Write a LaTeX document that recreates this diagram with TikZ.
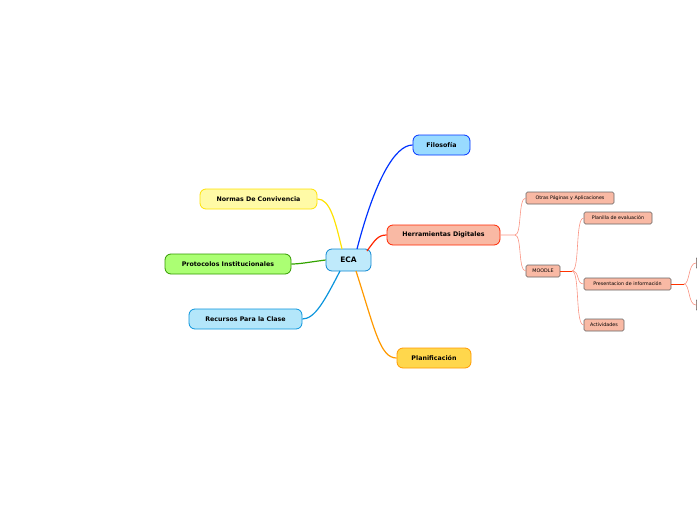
\documentclass[tikz,border=0pt]{standalone}
\usepackage{fontspec}
\setmainfont{DejaVu Sans}
\begin{document}
\begin{tikzpicture}[x=1pt,y=-1pt,
 main/.style={draw,rounded corners=6pt,line width=0.8pt,minimum height=20pt,inner sep=0pt,font=\bfseries\fontsize{6.3}{7}\selectfont},
 sub/.style={draw=black!60,fill=salm,rounded corners=1.5pt,line width=0.6pt,minimum height=12pt,inner sep=0pt,font=\fontsize{4.8}{5}\selectfont},
 conn/.style={line width=1.2pt},
 thin/.style={draw=salm!80!red,line width=0.6pt}]
\definecolor{salm}{HTML}{F9B9A4}
\useasboundingbox (0,0) rectangle (697,520);
\clip (0,0) rectangle (697,520);
\node[main,fill=cyan!25,draw=cyan!70!blue,minimum width=45pt,minimum height=22pt,font=\bfseries\fontsize{7.5}{8}\selectfont] (eca) at (348.5,260) {ECA};
\node[main,fill=blue!35!cyan!40,draw=blue!80!cyan,minimum width=57pt] (fil) at (441.5,145) {Filosofía};
\node[main,fill=salm,draw=red!70!orange,minimum width=113pt] (her) at (443.5,235) {Herramientas Digitales};
\node[main,fill=orange!45!yellow!70,draw=orange!80!yellow,minimum width=74pt] (pla) at (434,358) {Planificación};
\node[main,fill=yellow!35,draw=yellow!85!orange,minimum width=117pt] (nor) at (258.5,199) {Normas De Convivencia};
\node[main,fill=green!60!yellow!55,draw=green!50!black!80!yellow,minimum width=126pt] (pro) at (228,264) {Protocolos Institucionales};
\node[main,fill=cyan!30,draw=cyan!80!blue,minimum width=113pt] (rec) at (245.5,319) {Recursos Para la Clase};
\node[sub,minimum width=88pt] (otr) at (570,198) {Otras Páginas y Aplicaciones};
\node[sub,minimum width=34pt] (moo) at (543,271) {MOODLE};
\node[sub,minimum width=68pt] (pln) at (618,218) {Planilla de evaluación};
\node[sub,minimum width=87pt] (pre) at (627.5,284) {Presentacion de información};
\node[sub,minimum width=40pt] (act) at (604,325) {Actividades};
\node[sub,minimum width=30pt,anchor=west] (c1) at (696,263) {};
\node[sub,minimum width=30pt,anchor=west] (c2) at (696,305) {};
\draw[conn,blue!80!cyan] (357,249) .. controls (375,180) and (395,145) .. (fil.west);
\draw[conn,red!70!orange] (367,251) .. controls (375,240) and (378,235) .. (her.west);
\draw[conn,orange!80!yellow] (356,271) .. controls (375,330) and (380,358) .. (pla.west);
\draw[conn,yellow!85!orange] (342,249) .. controls (335,220) and (330,199) .. (nor.east);
\draw[conn,green!55!black!80!yellow] (eca.west) .. controls (310,262) and (300,264) .. (pro.east);
\draw[conn,cyan!80!blue] (340,271) .. controls (325,300) and (315,319) .. (rec.east);
\draw[thin] (her.east) -- (515,235) .. controls (522,235) and (518,198) .. (otr.west);
\draw[thin] (515,235) .. controls (522,235) and (518,271) .. (moo.west);
\draw[thin,draw=red!60!orange] (moo.east) -- (572,271);
\draw[thin] (572,271) .. controls (580,271) and (575,218) .. (pln.west);
\draw[thin] (572,271) .. controls (580,271) and (576,284) .. (pre.west);
\draw[thin] (572,271) .. controls (580,271) and (575,325) .. (act.west);
\draw[thin,draw=red!60!orange] (pre.east) -- (684,284);
\draw[thin] (684,284) .. controls (690,284) and (688,263) .. (c1.west);
\draw[thin] (684,284) .. controls (690,284) and (688,305) .. (c2.west);
\end{tikzpicture}
\end{document}
